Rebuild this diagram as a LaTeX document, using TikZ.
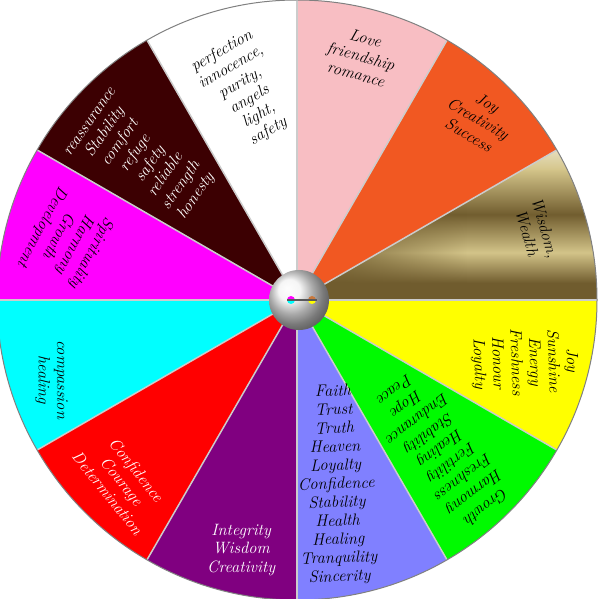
\documentclass[tikz,border=0pt]{standalone}
\usetikzlibrary{fadings}
\definecolor{lovepink}{RGB}{248,190,195}
\definecolor{joyorange}{RGB}{241,88,34}
\definecolor{goldlight}{RGB}{212,197,138}
\definecolor{golddark}{RGB}{112,92,46}
\definecolor{sunyellow}{RGB}{255,255,0}
\definecolor{growgreen}{RGB}{0,250,0}
\definecolor{faithblue}{RGB}{128,128,255}
\definecolor{wisepurple}{RGB}{128,0,128}
\definecolor{couragered}{RGB}{255,0,0}
\definecolor{healcyan}{RGB}{0,255,255}
\definecolor{spiritmagenta}{RGB}{255,0,255}
\definecolor{refugebrown}{RGB}{60,0,2}
\definecolor{hubbrown}{RGB}{200,120,60}
\tikzset{
  seam/.style={draw=gray!40, line width=1.5bp},
  rim/.style={draw=gray, line width=1bp},
  word/.style={align=center, inner sep=0pt,
    font=\itshape\fontsize{16.5}{18.6}\selectfont},
  hub/.style={circle, minimum size=60bp, inner sep=0pt,
    shading=ball, ball color=gray!10}
}
\begin{document}
\begin{tikzpicture}[x=1bp, y=1bp]
		\def\R{300}
		\useasboundingbox (-297,-299) rectangle (302,300);
		\fill[white] (0,0) -- (90:\R) arc (90:120:\R) -- cycle;
		\foreach \a/\c in {60/lovepink, 30/joyorange, -30/sunyellow,
			-60/growgreen, -90/faithblue, -120/wisepurple, -150/couragered,
			-180/healcyan, 150/spiritmagenta, 120/refugebrown}
		\fill[\c] (0,0) -- (\a:\R) arc (\a:\a+30:\R) -- cycle;
		\begin{scope}
			\clip (0,0) -- (0:\R) arc (0:30:\R) -- cycle;
			\shade[bottom color=golddark, top color=golddark] (0,-1) rectangle (301,18);
			\shade[bottom color=golddark, top color=goldlight] (0,17) rectangle (301,48);
			\shade[bottom color=goldlight, top color=golddark] (0,47) rectangle (301,86);
			\shade[bottom color=golddark, top color=goldlight] (0,85) rectangle (301,131);
			\shade[bottom color=goldlight, top color=goldlight!55!white] (0,130) rectangle (301,151);
			\fill[golddark, path fading=east] (0,0) rectangle (170,150);
		\end{scope}
		\foreach \a in {0,30,...,330}
		\draw[seam] (0,0) -- (\a:\R);
		\draw[rim] (0,0) circle (\R);
		\node[word, rotate=30] (white) at (104:215)
		{perfection\\innocence,\\purity,\\angels\\light,\\safety};
		\node[word, rotate=-15] (pink) at (75.3:252)
		{Love\\friendship\\romance};
		\node[word, rotate=-30] (orange) at (45:256)
		{Joy\\Creativity\\Success};
		\node[word, rotate=-74] (gold) at (16.3:249)
		{Wisdom,\\Wealth};
		\node[word, rotate=-88] (yellow) at (-15.2:236)
		{Joy\\Sunshine\\Energy\\Freshness\\Honour\\Loyalty};
		\node[word, rotate=-142] (green) at (-46:207)
		{Growth\\Harmony\\Freshness\\Fertility\\Healing\\Stability\\Endurance\\Hope\\Peace};
		\node[word, rotate=2] (blue) at (-78:189)
		{Faith\\Trust\\Truth\\Heaven\\Loyalty\\Confidence\\Stability\\Health\\Healing\\Tranquility\\Sincerity};
		\node[word, white] (purple) at (-102.6:256)
		{Integrity\\Wisdom\\Creativity};
		\node[word, white, rotate=-51] (red) at (-134:252)
		{Confidence\\Courage\\Determination};
		\node[word, rotate=-90] (cyan) at (-162:258)
		{compassion\\healing};
		\node[word, rotate=-118] (magenta) at (165.4:238)
		{Spirituality\\Harmony\\Growth\\Development};
		\node[word, white, rotate=55] (brown) at (137.4:207)
		{reassurance\\Stability\\comfort\\refuge\\safety\\reliable\\strength\\honesty};
		\node[hub] (hub) at (2,0) {};
		\fill[spiritmagenta] (-2,0) arc (0:180:4) -- cycle;
		\fill[healcyan] (-2,0) arc (0:-180:4) -- cycle;
		\fill[hubbrown] (19,0) arc (0:180:4) -- cycle;
		\fill[sunyellow] (19,0) arc (0:-180:4) -- cycle;
		\draw[gray!70!black, line width=1.2bp] (-10,0) -- (20,0);
	\end{tikzpicture}
\end{document}
